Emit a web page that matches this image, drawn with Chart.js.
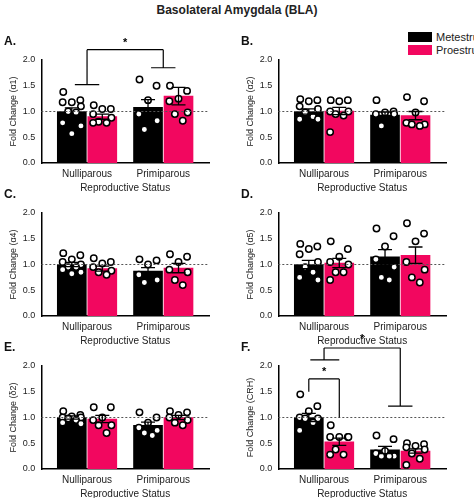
<!DOCTYPE html>
<html lang="en">
<head>
<meta charset="UTF-8">
<title>Basolateral Amygdala (BLA)</title>
<script src="https://cdn.jsdelivr.net/npm/chart.js"></script>
<style>
  body { margin: 0; background: #fff; font-family: "Liberation Sans", Arial, sans-serif; }
  #wrap { position: relative; width: 474px; height: 498px; overflow: hidden; }
  .title { position: absolute; top: 3px; width: 474px; text-align: center; font-size: 12px; font-weight: bold; color: #222; }
  .panel { position: absolute; width: 237px; height: 168px; }
  .lbl { position: absolute; font-size: 12px; font-weight: bold; color: #111; }
  .legend { position: absolute; left: 408px; top: 30px; font-size: 11px; color: #222; }
  .legend div { display: flex; align-items: center; height: 13px; white-space: nowrap; }
  .legend span { display: inline-block; width: 24px; height: 10px; margin-right: 4px; }
</style>
</head>
<body>
<div id="wrap">
  <div class="title">Basolateral Amygdala (BLA)</div>
  <div class="legend">
    <div><span style="background:#000"></span>Metestrus</div>
    <div><span style="background:#f2075f"></span>Proestrus</div>
  </div>
</div>
<script>
// group order: Nulliparous Metestrus, Nulliparous Proestrus, Primiparous Metestrus, Primiparous Proestrus
const groups = ['Nulliparous', 'Primiparous'];
const panelNames = ['A.', 'B.', 'C.', 'D.', 'E.', 'F.'];
const yTitles = ['Fold Change (\u03b11)', 'Fold Change (\u03b12)', 'Fold Change (\u03b14)',
                 'Fold Change (\u03b15)', 'Fold Change (\u03b42)', 'Fold Change (CRH)'];

const meansA = [1.0, 0.9, 1.08, 1.3];
const semA = [0.07, 0.05, 0.15, 0.17];
const pointsA = [
  [1.38, 1.22, 1.18, 1.18, 1.1, 1.0, 0.98, 0.78, 0.72, 0.57],
  [1.12, 1.05, 1.05, 0.95, 0.88, 0.8, 0.78, 0.78],
  [1.62, 1.5, 1.22, 0.95, 0.82, 0.65],
  [1.5, 1.4, 1.25, 1.2, 0.98, 0.95, 0.82]
];
const meansB = [1.0, 1.01, 0.93, 0.92];
const semB = [0.05, 0.07, 0.06, 0.08];
const pointsB = [
  [1.24, 1.22, 1.2, 1.1, 1.05, 0.98, 0.9, 0.85, 0.85],
  [1.22, 1.22, 1.2, 1.0, 1.0, 0.95, 0.92, 0.6],
  [1.22, 1.0, 0.98, 0.95, 0.95, 0.72],
  [1.28, 1.2, 0.98, 0.78, 0.75, 0.75, 0.72]
];
const meansC = [1.0, 0.92, 0.87, 0.93];
const semC = [0.04, 0.05, 0.07, 0.09];
const pointsC = [
  [1.22, 1.18, 1.1, 1.05, 1.0, 0.95, 0.95, 0.9, 0.85, 0.82],
  [1.12, 1.05, 1.02, 0.95, 0.88, 0.85, 0.8],
  [1.1, 1.08, 1.0, 0.8, 0.7, 0.65],
  [1.2, 1.15, 1.05, 0.9, 0.85, 0.7, 0.6]
];
const meansD = [1.0, 1.03, 1.15, 1.18];
const semD = [0.08, 0.09, 0.14, 0.16];
const pointsD = [
  [1.4, 1.35, 1.3, 1.2, 1.05, 0.95, 0.85, 0.75, 0.7],
  [1.45, 1.3, 1.15, 1.05, 1.0, 0.85, 0.85, 0.7],
  [1.7, 1.55, 1.35, 1.1, 0.95, 0.75, 0.7],
  [1.8, 1.6, 1.45, 1.05, 0.9, 0.75, 0.65]
];
const meansE = [1.0, 0.97, 0.85, 1.0];
const semE = [0.03, 0.07, 0.06, 0.04];
const pointsE = [
  [1.12, 1.05, 1.02, 1.0, 1.0, 0.98, 0.95, 0.9, 0.88],
  [1.2, 1.2, 1.0, 0.95, 0.85, 0.85, 0.7],
  [1.1, 1.0, 0.9, 0.8, 0.75, 0.7, 0.65],
  [1.12, 1.1, 1.05, 1.0, 0.95, 0.9, 0.85]
];
const meansF = [1.0, 0.53, 0.37, 0.35];
const semF = [0.08, 0.07, 0.07, 0.04];
const pointsF = [
  [1.45, 1.22, 1.12, 1.0, 0.98, 0.98, 0.9, 0.75],
  [0.85, 0.62, 0.62, 0.62, 0.62, 0.38, 0.28, 0.28],
  [0.65, 0.58, 0.35, 0.3, 0.25, 0.25, 0.25],
  [0.5, 0.48, 0.45, 0.42, 0.38, 0.3, 0.2, 0.08]
];
const yTicks = [0, 0.5, 1.0, 1.5, 2.0];

// layout helpers (x units)
const barX = [1, 2, 3.5, 4.5];
const groupX = [1.5, 4];
const jitter = [-0.28, 0.28, 0, -0.3, 0.3, -0.12, 0.14, -0.3, 0.3, 0];

// significance brackets: [x1, y1, x2, y2] segments, stars [x, y]
const bracketsA = { lines: [[1.1, 1.52, 1.9, 1.52], [1.5, 1.52, 1.5, 2.2], [1.5, 2.2, 4, 2.2], [4, 2.2, 4, 1.85], [3.6, 1.85, 4.4, 1.85]], stars: [[2.75, 2.38]] };
const bracketsF = { lines: [[1, 1.75, 2, 1.75], [1, 1.75, 1, 1.5], [2, 1.75, 2, 1.0], [1.05, 2.12, 2.0, 2.12], [1.5, 2.12, 1.5, 2.35], [1.5, 2.35, 4, 2.35], [4, 2.35, 4, 1.22], [3.6, 1.22, 4.4, 1.22]], stars: [[1.5, 1.95], [2.75, 2.58]] };

const panels = [
  [meansA, semA, pointsA, bracketsA],
  [meansB, semB, pointsB, null],
  [meansC, semC, pointsC, null],
  [meansD, semD, pointsD, null],
  [meansE, semE, pointsE, null],
  [meansF, semF, pointsF, bracketsF]
];

const colors = ['#000000', '#f2075f', '#000000', '#f2075f'];

const extras = {
  id: 'extras',
  afterDatasetsDraw(chart, args, opts) {
    const ctx = chart.ctx, x = chart.scales.x, y = chart.scales.y;
    ctx.save();
    // dotted reference line at 1.0
    ctx.setLineDash([2, 2]);
    ctx.strokeStyle = '#555';
    ctx.lineWidth = 1;
    ctx.beginPath();
    ctx.moveTo(x.left, y.getPixelForValue(1));
    ctx.lineTo(x.right, y.getPixelForValue(1));
    ctx.stroke();
    ctx.setLineDash([]);
    // error bars
    ctx.strokeStyle = '#000';
    ctx.lineWidth = 1.3;
    opts.means.forEach((m, i) => {
      const px = x.getPixelForValue(barX[i]);
      const lo = y.getPixelForValue(m - opts.sem[i]);
      const hi = y.getPixelForValue(m + opts.sem[i]);
      ctx.beginPath();
      ctx.moveTo(px, lo); ctx.lineTo(px, hi);
      ctx.moveTo(px - 7, hi); ctx.lineTo(px + 7, hi);
      ctx.moveTo(px - 7, lo); ctx.lineTo(px + 7, lo);
      ctx.stroke();
    });
    // brackets
    if (opts.brackets) {
      ctx.lineWidth = 1.2;
      ctx.beginPath();
      opts.brackets.lines.forEach(s => {
        ctx.moveTo(x.getPixelForValue(s[0]), y.getPixelForValue(s[1]));
        ctx.lineTo(x.getPixelForValue(s[2]), y.getPixelForValue(s[3]));
      });
      ctx.stroke();
      ctx.fillStyle = '#000';
      ctx.font = 'bold 11px "Liberation Sans"';
      ctx.textAlign = 'center';
      ctx.textBaseline = 'middle';
      opts.brackets.stars.forEach(s => ctx.fillText('*', x.getPixelForValue(s[0]), y.getPixelForValue(s[1]) + 3));
    }
    ctx.restore();
  }
};

const wrap = document.getElementById('wrap');
panels.forEach((p, k) => {
  const col = k % 2, row = Math.floor(k / 2);
  const left = col * 237, top = 26 + row * 153;
  const div = document.createElement('div');
  div.className = 'panel';
  div.style.left = left + 'px';
  div.style.top = top + 'px';
  div.innerHTML = '<canvas></canvas>';
  wrap.appendChild(div);
  const lbl = document.createElement('div');
  lbl.className = 'lbl';
  lbl.textContent = panelNames[k];
  lbl.style.left = (left + 4) + 'px';
  lbl.style.top = (top + 8) + 'px';
  wrap.appendChild(lbl);

  const [means, sem, pts, brackets] = p;
  const datasets = [];
  pts.forEach((arr, i) => {
    datasets.push({
      type: 'scatter',
      data: arr.map((v, j) => ({ x: barX[i] + jitter[j], y: v })),
      pointRadius: 3.2,
      pointBackgroundColor: '#fff',
      pointBorderColor: '#000',
      pointBorderWidth: 1.5,
      order: 0
    });
  });
  datasets.push({
    type: 'bar',
    data: means.map((m, i) => ({ x: barX[i], y: m })),
    backgroundColor: colors,
    barThickness: 29,
    grouped: false,
    order: 1
  });

  new Chart(div.querySelector('canvas'), {
    data: { datasets },
    options: {
      responsive: true,
      maintainAspectRatio: false,
      animation: false,
      layout: { padding: { top: 34, right: 28, left: 6 } },
      plugins: {
        legend: { display: false },
        tooltip: { enabled: false },
        extras: { means, sem, brackets }
      },
      scales: {
        x: {
          type: 'linear', min: 0, max: 5.5, offset: false,
          afterBuildTicks: s => { s.ticks = groupX.map(v => ({ value: v })); },
          ticks: { callback: (v, i) => groups[i], color: '#222', font: { size: 10 }, padding: 2 },
          grid: { display: false, drawTicks: true, tickLength: 3, tickColor: '#000' },
          border: { color: '#000', width: 1.5 },
          title: { display: true, text: 'Reproductive Status', color: '#222', font: { size: 10 }, padding: 0 }
        },
        y: {
          min: 0, max: 2,
          afterBuildTicks: s => { s.ticks = yTicks.map(v => ({ value: v })); },
          ticks: { callback: v => v.toFixed(1), color: '#222', font: { size: 9 }, padding: 2 },
          grid: { display: false, drawTicks: true, tickLength: 4, tickColor: '#000' },
          border: { color: '#000', width: 1.5 },
          title: { display: true, text: yTitles[k], color: '#222', font: { size: 9 }, padding: 2 }
        }
      }
    },
    plugins: [extras]
  });
});
</script>
</body>
</html>
